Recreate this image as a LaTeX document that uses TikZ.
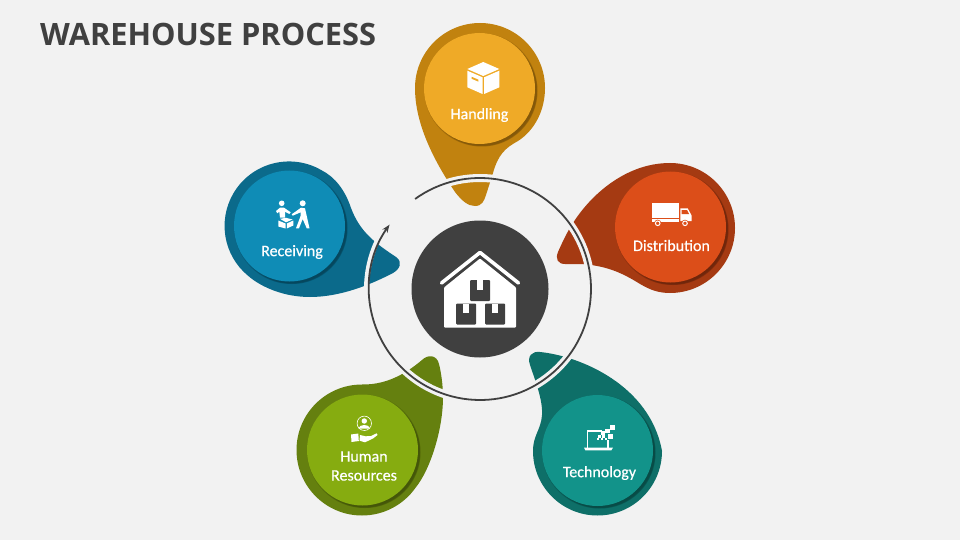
\documentclass[tikz,border=0pt]{standalone}
\usepackage{fontspec}
\setmainfont{Carlito}
\newfontfamily\titlefont{Open Sans}
\newfontfamily\capfont{Carlito}[FakeBold=0.5]
\usetikzlibrary{arrows.meta}

\definecolor{paper}{HTML}{F2F2F2}
\definecolor{ink}{HTML}{404040}
\definecolor{handlingdark}{HTML}{C1820F}
\definecolor{handlinglight}{HTML}{EFAA27}
\definecolor{receivingdark}{HTML}{0B6A8B}
\definecolor{receivinglight}{HTML}{0F8CB6}
\definecolor{distdark}{HTML}{A53A12}
\definecolor{distlight}{HTML}{DC4E19}
\definecolor{humandark}{HTML}{65800F}
\definecolor{humanlight}{HTML}{86AC10}
\definecolor{techdark}{HTML}{0E6F68}
\definecolor{techlight}{HTML}{12938A}

\tikzset{
	disc/.style={circle, minimum size=111pt, inner sep=0pt},
	caption/.style={text=white, font=\capfont\fontsize{16}{19}\selectfont, align=center, inner sep=0pt},
	gapband/.style={draw=paper, line width=8pt},
	softedge/.style={black, opacity=.06},
	icon/.style={fill=white, draw=none}
}

% soft shadow under a disc
\newcommand{\discshadow}[1]{
	\foreach \off/\rad in {3/54.5, 3/55, 2.5/55.5, 2/56, 1.5/56.5, 1/56.5}
		\fill[softedge] (#1) ++(\off,\off) circle (\rad pt);
}

\begin{document}
\begin{tikzpicture}[x=1pt, y=-1pt]
	\useasboundingbox (0,0) rectangle (960,540);
	\fill[paper] (0,0) rectangle (960,540);

	\coordinate (C) at (480,289);
	\coordinate (HA) at (479.5,88.5);
	\coordinate (RE) at (289.5,226);
	\coordinate (DI) at (670.5,227);
	\coordinate (HU) at (362.5,450);
	\coordinate (TE) at (597.5,450.5);

	\node[anchor=base west, inner sep=0pt, text=ink, font=\titlefont\bfseries\fontsize{30.8}{36}\selectfont] (title) at (40,46) {WAREHOUSE PROCESS};

	%% the drops
	\fill[handlingdark] (545,88) arc[start angle=0, end angle=180, radius=65pt]
		.. controls (415,120) and (430,155) .. (455,192)
		.. controls (462,201) and (468,206) .. (475,206)
		.. controls (482,206) and (484,201) .. (486,195)
		-- (493,173)
		.. controls (498,155) and (505,148) .. (518,141)
		.. controls (535,130) and (545,110) .. (545,88) -- cycle;
	\fill[distdark] (670,163) arc[start angle=90, end angle=-90, radius=65pt]
		.. controls (650,293) and (640,283) .. (628,277)
		.. controls (615,270) and (600,265) .. (580,264)
		-- (565,264)
		.. controls (558,264) and (555,259) .. (558,252)
		.. controls (562,243) and (567,232) .. (573,223)
		.. controls (590,196) and (625,163) .. (670,163) -- cycle;
	\fill[humandark] (362,384.5) arc[start angle=90, end angle=325, radius=65.5pt]
		.. controls (430,470) and (443,430) .. (443,397)
		.. controls (443,385) and (441,372) .. (439,364)
		.. controls (437,355) and (428,354) .. (422,360)
		.. controls (410,370) and (390,385) .. (362,384.5) -- cycle;
	\fill[techdark] (662,451) arc[start angle=0, end angle=-180, radius=64.5pt]
		.. controls (533,435) and (541,430) .. (542,415)
		.. controls (543,400) and (535,380) .. (530,365)
		.. controls (527,356) and (532,351) .. (540,352)
		.. controls (580,356) and (650,385) .. (662,451) -- cycle;

	%% gap and ring
	\draw[gapband] (C) circle (111pt);

	\fill[receivingdark] (321.3,170.1) arc[start angle=60, end angle=230, radius=64.5pt]
		.. controls (262,288) and (285,297) .. (310,297)
		.. controls (340,297) and (370,285) .. (393,273)
		.. controls (400,269) and (403,262) .. (396,257)
		.. controls (375,243) and (360,232) .. (351,208)
		.. controls (345,190) and (335,177) .. (321.3,170.1) -- cycle;
	\draw[draw=paper, line width=5pt] (C) ++(150:113.5pt) arc[start angle=150, end angle=180, radius=113.5pt];

	\draw[ink, line width=1.8pt, -{Stealth[length=8pt, width=6pt]}] (C) ++(125.8:111pt) arc[start angle=125.8, end angle=-215.4, radius=111pt];

	%% discs
	\discshadow{HA}
	\discshadow{RE}
	\discshadow{DI}
	\discshadow{HU}
	\discshadow{TE}
	\node[disc, fill=handlinglight] (handling) at (HA) {};
	\node[disc, fill=receivinglight] (receiving) at (RE) {};
	\node[disc, fill=distlight] (distribution) at (DI) {};
	\node[disc, fill=humanlight] (human) at (HU) {};
	\node[disc, fill=techlight] (technology) at (TE) {};
	\node[circle, minimum size=137pt, inner sep=0pt, fill=ink] (hub) at (C) {};

	\node[caption] (handlinglabel) at (479.5,115) {Handling};
	\node[caption] (receivinglabel) at (292,252) {Receiving};
	\node[caption] (distlabel) at (671.5,245.5) {Distribution};
	\node[caption] (humanlabel) at (364,466) {Human\\Resources};
	\node[caption] (techlabel) at (599.5,473) {Technology};

	%% warehouse
	\draw[white, line width=3.6pt, line cap=round, line join=round] (441.5,283) -- (480,252.5) -- (518.5,283);
	\fill[white, rounded corners=.8pt] (444,287.5) -- (480,258.5) -- (516,287.5) -- (516,327.5) -- (444,327.5) -- cycle;
	\foreach \bx/\by in {470/280, 456/303.5, 485/303.5} {
		\fill[ink, rounded corners=1pt] (\bx,\by) rectangle ++(20,21);
		\fill[white] (\bx+7,\by) rectangle ++(6,9.5);
	}

	%% box
	\fill[icon] (483.3,62) -- (499.3,69) -- (483.3,76) -- (467.3,69) -- cycle;
	\fill[icon] (467.3,70.7) -- (482.5,77.3) -- (482.5,94) -- (467.3,87.3) -- cycle;
	\fill[icon] (484.1,77.3) -- (499.3,70.7) -- (499.3,87.3) -- (484.1,94) -- cycle;
	\fill[handlinglight] (471.7,76.8) -- (478.3,79.6) -- (478.3,81.6) -- (471.7,78.8) -- cycle;

	%% two people and a carton
	\fill[icon] (281.7,203.3) circle (2.8pt);
	\fill[icon] (276,211) -- (280,207.7) -- (284,207.7) -- (290.7,212.3) -- (289.3,214) -- (285,211.7) -- (285,217.7) -- (280,217.7) -- (279.3,211.7) -- (277.3,213.3) -- cycle;
	\fill[icon] (278.3,220.5) -- (285.5,223.5) -- (285.5,228.5) -- (278.3,226.5) -- cycle;
	\fill[icon] (286.8,223.5) -- (293.3,220.5) -- (293.3,225.5) -- (286.8,228.5) -- cycle;
	\fill[icon] (280,218.8) -- (286,217.8) -- (292.5,219.5) -- (286,222.3) -- cycle;
	\fill[icon] (302.7,203.3) circle (3pt);
	\fill[icon] (291.7,214.3) -- (301,207.7) -- (305,208.3) -- (309.5,228.3) -- (306.7,228.3) -- (302.7,219) -- (299,228.3) -- (296,228.3) -- (300.7,215.7) -- (300.7,212.3) -- (292.7,215.7) -- cycle;

	%% truck
	\fill[icon] (651.7,203.3) rectangle (679,217.7);
	\fill[icon] (652.3,219) rectangle (679,221.7);
	\fill[icon] (680.3,208.3) -- (687.7,208.3) -- (691.7,215.7) -- (691.7,221) -- (680.3,221) -- cycle;
	\fill[distlight] (681.7,210) -- (687,210) -- (689,214) -- (681.7,214) -- cycle;
	\foreach \wx in {657.7, 685} {
		\fill[distlight] (\wx,223.3) circle (3.6pt);
		\draw[white, line width=1pt] (\wx,223.3) circle (2.3pt);
	}

	%% person in a hand
	\draw[white, line width=.6pt] (364.3,423.3) circle (7.2pt);
	\fill[icon] (364.3,421) circle (2.7pt);
	\fill[icon] (358.5,428.5) .. controls (359,423.8) and (369.5,423.8) .. (370,428.5) -- cycle;
	\fill[icon] (351,434.5) -- (358.3,433.5) -- (358.8,441) -- (351.5,442) -- cycle;
	\fill[icon] (360,435) -- (365.7,436.3) -- (371,436) -- (376.7,433.3) -- (377.5,435) -- (373,438.5) -- (365,442.3) -- (359.5,440.7) -- cycle;

	%% laptop
	\draw[white, line width=1.1pt] (587.8,447.5) -- (587.8,431) -- (602,431);
	\draw[white, line width=1.1pt] (608,440) -- (608,447.5);
	\fill[icon] (584,447.6) -- (613,447.6) -- (611.3,450.3) -- (585.3,450.3) -- cycle;
	\foreach \px/\py/\ps in {612.2/427.8/5, 607.5/430.8/4.3, 610.2/436.2/5.3, 603/433/3.3, 599.3/436.3/2.5, 603.7/436.7/3, 602/439/2.3, 598/439/2, 606/439.3/2.3}
		\fill[icon] (\px-\ps/2,\py-\ps/2) rectangle ++(\ps,\ps);
\end{tikzpicture}
\end{document}
